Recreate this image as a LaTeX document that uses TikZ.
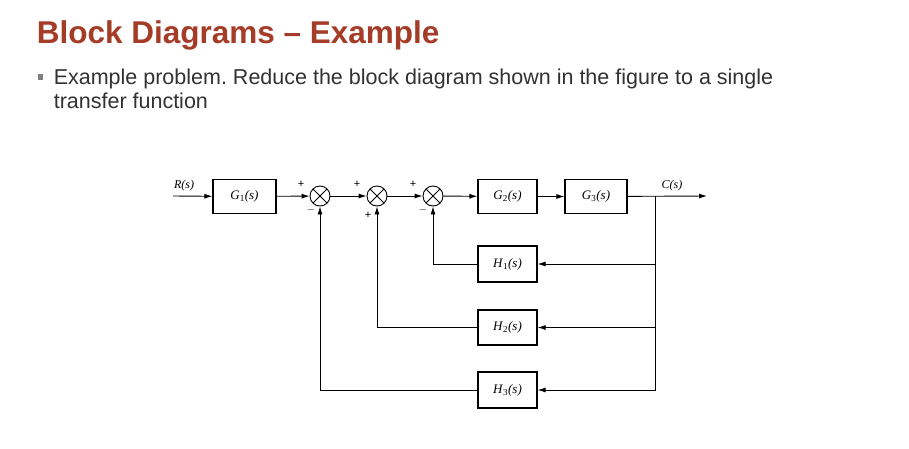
\documentclass[tikz,border=0pt]{standalone}
\usepackage{fontspec}
\setmainfont{Liberation Sans}
\newfontfamily\tms{Liberation Serif}
\usetikzlibrary{arrows.meta}
\definecolor{titlered}{RGB}{165,60,40}
\definecolor{txt}{RGB}{50,50,50}
\newcommand{\tf}[2]{\textit{#1}\textsubscript{\upshape#2}\textit{(s)}}
\begin{document}
\frenchspacing
\begin{tikzpicture}[x=1pt,y=-1pt,line width=0.9pt,
  blk/.style={draw,line width=1.2pt,minimum width=#1,minimum height=34pt,inner sep=0pt,font=\tms\fontsize{13}{15}\selectfont},
  blk/.default=60pt,
  sum/.style={draw,circle,minimum size=20pt,inner sep=0pt,path picture={\draw (path picture bounding box.north west)--(path picture bounding box.south east) (path picture bounding box.north east)--(path picture bounding box.south west);}},
  sig/.style={font=\tms\itshape\fontsize{12}{14}\selectfont},
  pm/.style={font=\fontsize{11}{12}\selectfont},
  line/.style={-{Latex[length=8pt,width=5pt]}}]
\useasboundingbox (0,0) rectangle (909,448);
\fill[white] (0,0) rectangle (909,448);
\node[anchor=west,text=titlered,font=\bfseries\fontsize{31.5}{34}\selectfont] (title) at (33,35) {Block Diagrams – Example};
\fill[gray] (38,74) rectangle (43,80);
\node[anchor=west,text=txt,font=\fontsize{21.5}{24}\selectfont,align=left] (body) at (50,89) {Example problem. Reduce the block diagram shown in the figure to a single\\transfer function};
\node[blk=63pt] (g1) at (244.5,196.5) {\tf{G}{1}};
\node[sum] (s1) at (320,196) {};
\node[sum] (s2) at (377,196) {};
\node[sum] (s3) at (433,196) {};
\node[blk=59pt] (g2) at (507.5,196.5) {\tf{G}{2}};
\node[blk=62pt] (g3) at (596,196.5) {\tf{G}{3}};
\node[blk=59pt,minimum height=36pt] (h1) at (507.5,264) {\tf{H}{1}};
\node[blk=59pt,minimum height=35pt] (h2) at (507.5,327.5) {\tf{H}{2}};
\node[blk=59pt,minimum height=36pt] (h3) at (507.5,390) {\tf{H}{3}};
\coordinate (in) at (173,196);
\coordinate (out) at (707,196);
\coordinate (tap) at (655,196);
\node[sig] (R) at (184,186) {R(s)};
\node[sig] (C) at (672,186) {C(s)};
\draw[line] (in) -- (g1);
\draw[line] (g1) -- (s1);
\draw[line] (s1) -- (s2);
\draw[line] (s2) -- (s3);
\draw[line] (s3) -- (g2);
\draw[line] (g2) -- (g3);
\draw[line] (g3) -- (out);
\draw[line] (tap) |- (h1.east);
\draw[line] (tap) |- (h2.east);
\draw[line] (tap) |- (h3.east);
\draw[line] (h1.west) -| (s3.south);
\draw[line] (h2.west) -| (s2.south);
\draw[line] (h3.west) -| (s1.south);
\node[pm] (p1) at (301,184) {+};
\node[pm] (m1) at (311,210) {$-$};
\node[pm] (p2) at (357,184) {+};
\node[pm] (p2b) at (368,215) {+};
\node[pm] (p3) at (413,184) {+};
\node[pm] (m3) at (423,210) {$-$};
\end{tikzpicture}
\end{document}
